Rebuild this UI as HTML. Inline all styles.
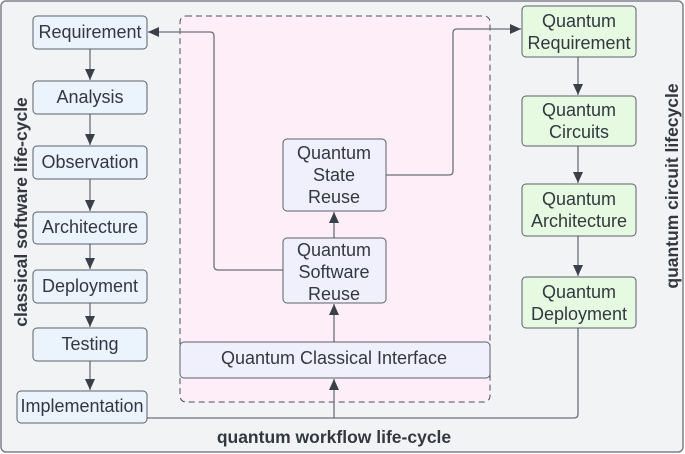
<!DOCTYPE html>
<html><head><meta charset="utf-8"><style>
html,body{margin:0;padding:0;background:#fff}
svg{display:block}
text{font-family:"Liberation Sans",sans-serif;fill:#333840;font-size:18px}
.b{font-weight:bold;font-size:17.5px;fill:#333840}
</style></head><body>
<svg width="685" height="454" viewBox="0 0 685 454" xmlns="http://www.w3.org/2000/svg">
<defs><marker id="a" markerWidth="12" markerHeight="12" refX="11" refY="5" orient="auto" markerUnits="userSpaceOnUse"><path d="M0,0 L11,5 L0,10 z" fill="#3a4049"/></marker></defs>
<rect x="1" y="1" width="682" height="451" rx="5" fill="#f2f3f5" stroke="#7d8189" stroke-width="1.5"/>
<rect x="180" y="16" width="310" height="386" rx="6" fill="#fdeef8" stroke="#4a4f57" stroke-dasharray="6,4"/>
<g fill="none" stroke="#6b7079" stroke-width="1.3">
<path d="M90,49 V80" marker-end="url(#a)"/>
<path d="M90,114 V145" marker-end="url(#a)"/>
<path d="M90,179 V211" marker-end="url(#a)"/>
<path d="M90,244 V269" marker-end="url(#a)"/>
<path d="M90,303 V327" marker-end="url(#a)"/>
<path d="M90,361 V390" marker-end="url(#a)"/>
<path d="M578,57 V95" marker-end="url(#a)"/>
<path d="M578,146 V183" marker-end="url(#a)"/>
<path d="M578,236 V276" marker-end="url(#a)"/>
<path d="M334,238 V212" marker-end="url(#a)"/>
<path d="M334,342 V304" marker-end="url(#a)"/>
<path d="M334,418 V379" marker-end="url(#a)"/>
<path d="M283,270 H218 Q214,270 214,266 V36 Q214,32 210,32 H148" marker-end="url(#a)"/>
<path d="M386,175 H449 Q453,175 453,171 V33 Q453,29 457,29 H521" marker-end="url(#a)"/>
<path d="M147,418 H334"/>
<path d="M578,328 V414 Q578,418 574,418 H334"/>
</g>
<g stroke="#5b6069" stroke-width="1" fill="#ebf3fd">
<rect x="33" y="16" width="114" height="33" rx="4"/>
<rect x="33" y="81" width="114" height="33" rx="4"/>
<rect x="33" y="146" width="114" height="33" rx="4"/>
<rect x="33" y="212" width="114" height="32" rx="4"/>
<rect x="33" y="270" width="114" height="33" rx="4"/>
<rect x="33" y="328" width="114" height="33" rx="4"/>
<rect x="17" y="391" width="130" height="32" rx="4"/>
</g>
<g stroke="#5b6069" stroke-width="1" fill="#f0f0fc">
<rect x="283" y="139" width="103" height="72" rx="4"/>
<rect x="283" y="238" width="103" height="65" rx="4"/>
<rect x="180" y="342" width="310" height="36" rx="4"/>
</g>
<g stroke="#5b6069" stroke-width="1" fill="#e6f9e1">
<rect x="522" y="6" width="114" height="51" rx="4"/>
<rect x="522" y="96" width="114" height="50" rx="4"/>
<rect x="522" y="184" width="114" height="52" rx="4"/>
<rect x="522" y="277" width="114" height="51" rx="4"/>
</g>
<g text-anchor="middle">
<text x="90" y="38">Requirement</text>
<text x="90" y="103">Analysis</text>
<text x="90" y="168">Observation</text>
<text x="90" y="233">Architecture</text>
<text x="90" y="292">Deployment</text>
<text x="90" y="350">Testing</text>
<text x="82" y="412">Implementation</text>
<text x="334" y="159">Quantum</text><text x="334" y="181">State</text><text x="334" y="203">Reuse</text>
<text x="334" y="256">Quantum</text><text x="334" y="278">Software</text><text x="334" y="300">Reuse</text>
<text x="334" y="364">Quantum Classical Interface</text>
<text x="579" y="27">Quantum</text><text x="579" y="49">Requirement</text>
<text x="579" y="116">Quantum</text><text x="579" y="138">Circuits</text>
<text x="579" y="205">Quantum</text><text x="579" y="227">Architecture</text>
<text x="579" y="298">Quantum</text><text x="579" y="320">Deployment</text>
<text class="b" x="334" y="443">quantum workflow life-cycle</text>
<text class="b" transform="translate(27,212) rotate(-90)">classical software life-cycle</text>
<text class="b" transform="translate(678,186) rotate(-90)">quantum circuit lifecycle</text>
</g>
</svg>
</body></html>
